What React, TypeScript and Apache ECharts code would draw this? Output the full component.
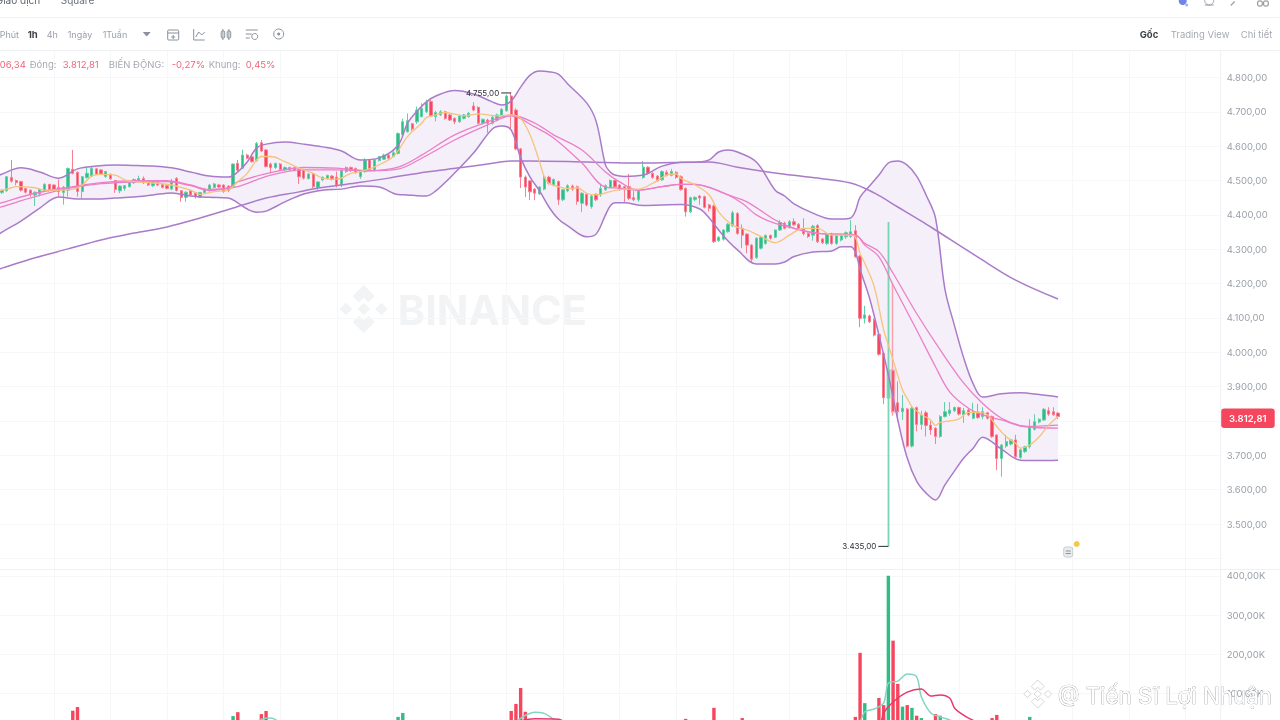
import React, { useEffect, useRef } from "react";
import * as echarts from "echarts";

const FONT = "Inter, Roboto, 'Noto Sans', sans-serif";
const UP = "#2EBD85";
const DOWN = "#F6465D";
const UP_EDGE = "#62CFA6";
const DOWN_EDGE = "#F97F90";
const SLOTS = 260;

const slotLabels = Array.from({ length: SLOTS }, (_, i) => String(i));

// open, close, low, high for each hourly candle (the first one lies off the left edge)
const candles: number[][] = [
  [4472,4466,4460,4476],
  [4465,4472,4461,4474],[4470,4511,4468,4513],[4509,4498,4494,4560],[4500,4494,4486,4503],[4497,4472,4468,4499],
  [4477,4466,4462,4479],[4472,4461,4453,4474],[4458,4466,4426,4468],[4461,4474,4454,4476],[4470,4489,4468,4492],
  [4489,4472,4468,4490],[4487,4474,4470,4489],[4480,4468,4453,4503],[4465,4480,4430,4484],[4472,4535,4453,4538],
  [4533,4521,4518,4589],[4524,4468,4453,4526],[4468,4511,4448,4513],[4509,4521,4505,4540],[4513,4535,4511,4542],
  [4534,4518,4516,4536],[4531,4519,4516,4533],[4512,4526,4508,4528],[4518,4505,4502,4520],[4500,4474,4464,4502],
  [4470,4484,4463,4486],[4477,4485,4470,4487],[4482,4494,4480,4496],[4494,4503,4490,4506],[4500,4506,4497,4514],
  [4506,4494,4490,4512],[4497,4487,4484,4499],[4485,4497,4481,4500],[4494,4487,4484,4496],[4489,4480,4477,4491],
  [4485,4477,4474,4487],[4475,4497,4472,4505],[4506,4471,4468,4510],[4470,4451,4438,4472],[4451,4466,4438,4468],
  [4470,4458,4455,4472],[4465,4453,4448,4467],[4451,4465,4449,4467],[4465,4474,4462,4476],[4472,4487,4468,4490],
  [4480,4490,4478,4493],[4487,4481,4478,4490],[4487,4468,4464,4489],[4484,4471,4466,4486],[4482,4548,4478,4550],
  [4550,4530,4525,4560],[4536,4574,4534,4590],[4574,4565,4562,4578],[4569,4555,4552,4572],[4558,4608,4555,4612],
  [4610,4586,4583,4618],[4589,4541,4538,4592],[4548,4538,4521,4552],[4538,4550,4534,4552],[4548,4532,4528,4551],
  [4531,4538,4528,4541],[4531,4538,4529,4541],[4537,4531,4527,4540],[4532,4511,4490,4535],[4531,4507,4503,4534],
  [4506,4519,4503,4521],[4519,4482,4478,4521],[4480,4496,4472,4498],[4502,4510,4498,4512],[4506,4515,4503,4517],
  [4513,4503,4500,4516],[4510,4487,4480,4526],[4487,4529,4481,4535],[4526,4538,4522,4541],[4538,4529,4525,4541],
  [4535,4523,4520,4538],[4511,4526,4505,4530],[4526,4560,4523,4565],[4560,4531,4528,4563],[4531,4560,4526,4563],
  [4558,4570,4555,4572],[4562,4574,4560,4578],[4574,4565,4560,4577],[4570,4581,4568,4590],[4579,4637,4576,4640],
  [4633,4671,4628,4680],[4642,4674,4640,4695],[4665,4650,4645,4668],[4671,4705,4665,4715],[4686,4710,4684,4725],
  [4700,4727,4697,4735],[4730,4688,4685,4735],[4686,4698,4672,4703],[4691,4700,4688,4705],[4700,4681,4677,4703],
  [4691,4676,4673,4694],[4681,4671,4664,4684],[4671,4688,4668,4692],[4681,4691,4678,4694],[4686,4696,4683,4700],
  [4717,4705,4702,4728],[4713,4667,4664,4716],[4667,4678,4663,4681],[4676,4667,4639,4680],[4667,4684,4663,4688],
  [4676,4691,4672,4695],[4691,4707,4688,4711],[4703,4746,4700,4750],[4746,4691,4650,4755],[4705,4592,4588,4710],
  [4592,4510,4478,4595],[4510,4481,4452,4515],[4499,4467,4443,4502],[4475,4463,4443,4478],[4461,4481,4458,4484],
  [4475,4510,4472,4515],[4510,4492,4488,4514],[4487,4503,4483,4506],[4497,4444,4429,4500],[4444,4473,4440,4476],
  [4470,4485,4466,4489],[4484,4475,4470,4488],[4482,4439,4430,4485],[4434,4463,4408,4466],[4460,4429,4425,4463],
  [4424,4455,4418,4458],[4460,4444,4440,4463],[4458,4477,4453,4487],[4473,4485,4470,4489],[4480,4500,4477,4503],
  [4500,4482,4479,4503],[4487,4475,4470,4490],[4482,4473,4438,4485],[4482,4448,4443,4519],[4450,4444,4440,4470],
  [4444,4470,4438,4473],[4509,4539,4505,4557],[4539,4521,4517,4542],[4521,4509,4505,4524],[4513,4500,4496,4516],
  [4502,4526,4499,4530],[4524,4515,4512,4530],[4515,4526,4512,4534],[4524,4509,4505,4527],[4511,4474,4470,4515],
  [4477,4409,4395,4480],[4409,4450,4405,4453],[4445,4451,4440,4454],[4455,4449,4430,4458],[4453,4422,4419,4456],
  [4429,4419,4410,4432],[4426,4322,4318,4430],[4325,4335,4322,4338],[4329,4356,4325,4358],[4351,4373,4348,4376],
  [4368,4406,4365,4412],[4404,4346,4342,4408],[4361,4341,4303,4372],[4344,4312,4288,4347],[4312,4271,4260,4315],
  [4276,4332,4272,4335],[4303,4335,4299,4338],[4317,4340,4313,4343],[4340,4332,4328,4343],[4335,4356,4332,4358],
  [4356,4378,4353,4385],[4376,4361,4358,4380],[4364,4380,4360,4385],[4380,4371,4368,4390],[4373,4361,4358,4376],
  [4359,4345,4340,4390],[4346,4337,4333,4349],[4341,4367,4325,4371],[4369,4322,4318,4373],[4330,4319,4315,4333],
  [4317,4344,4312,4348],[4344,4317,4313,4348],[4317,4340,4313,4344],[4327,4342,4323,4345],[4336,4348,4330,4352],
  [4337,4351,4333,4385],[4354,4278,4275,4370],[4280,4099,4073,4283],[4099,4109,4084,4135],[4106,4089,4085,4110],
  [4094,4050,4046,4098],[4052,3994,3990,4056],[3997,3868,3849,4000],[3868,3948,3435,4379],[3948,3827,3815,4201],
  [3853,3827,3800,3915],[3827,3837,3803,3876],[3835,3727,3723,3838],[3727,3837,3723,3841],[3839,3790,3770,3842],
  [3790,3817,3775,3830],[3824,3787,3755,3830],[3788,3774,3760,3800],[3779,3755,3733,3782],[3755,3813,3751,3817],
  [3813,3827,3810,3855],[3822,3832,3815,3855],[3830,3839,3826,3842],[3839,3820,3816,3842],[3818,3830,3795,3838],
  [3832,3818,3814,3836],[3808,3827,3805,3853],[3826,3810,3806,3850],[3813,3827,3805,3840],[3824,3808,3804,3827],
  [3813,3755,3751,3816],[3759,3691,3657,3762],[3691,3730,3638,3733],[3727,3740,3722,3760],[3733,3745,3729,3748],
  [3745,3696,3692,3760],[3694,3716,3690,3720],[3711,3725,3707,3728],[3725,3782,3720,3805],[3776,3798,3772,3820],
  [3797,3805,3793,3808],[3803,3834,3800,3838],[3830,3820,3815,3840],[3827,3818,3815,3840],[3823,3812.81,3806,3826],
];

// candle index (counted with the off-screen candle as 0) of the tall spike and the one after it
const spikeIndex = 189;
const spikeNextIndex = 190;

const bbIndex = [0,1,5,9,13,17,21,25,29,33,37,41,45,49,51,53,55,57,61,65,69,73,77,81,85,87,89,91,93,97,101,105,107,109,111,113,115,117,119,121,125,127,129,130,131,133,137,141,145,149,151,153,155,157,161,165,167,169,173,177,179,181,182,183,185,187,189,191,193,195,197,199,201,203,205,207,209,213,217,221,225];
const bbUpper = [4512,4519,4537,4525,4507,4534,4542,4545,4544,4542,4537,4525,4513,4510,4525,4554,4595,4606,4612,4606,4598,4586,4560,4566,4603,4667,4702,4729,4746,4762,4752,4729,4720,4732,4772,4807,4819,4817,4810,4781,4726,4673,4545,4525,4516,4512,4516,4542,4553,4554,4560,4583,4589,4583,4554,4472,4455,4432,4405,4388,4388,4391,4411,4452,4484,4516,4551,4557,4545,4513,4458,4391,4184,4079,3983,3908,3870,3879,3882,3877,3870];
const bbLower = [4340,4350,4382,4420,4452,4446,4446,4449,4452,4458,4464,4455,4451,4449,4435,4417,4408,4411,4438,4461,4472,4475,4484,4481,4459,4458,4456,4455,4470,4522,4580,4650,4659,4647,4566,4510,4470,4423,4388,4368,4336,4344,4400,4426,4435,4435,4427,4429,4430,4417,4391,4356,4324,4298,4257,4257,4263,4279,4292,4295,4307,4307,4292,4242,4158,4050,3934,3803,3692,3625,3590,3570,3614,3654,3692,3721,3753,3718,3686,3685,3686];

const maLong = [[0,4240],[1,4245],[8,4275],[15,4301],[22,4327],[29,4347],[36,4365],[43,4391],[50,4420],[57,4449],[64,4467],[68,4478],[76,4493],[83,4507],[91,4525],[98,4537],[104,4548],[109,4557],[113,4557],[125,4554],[136,4551],[151,4554],[157,4539],[165,4522],[172,4510],[181,4493],[186,4464],[191,4423],[196,4382],[199,4356],[208,4277],[216,4210],[225,4155]];
const maFast = [[0,4470],[1,4472],[3,4479],[4,4482],[8,4479],[10,4472],[13,4472],[16,4474],[18,4487],[20,4513],[22,4518],[25,4516],[27,4502],[29,4497],[34,4492],[37,4487],[41,4472],[43,4460],[46,4468],[49,4472],[51,4497],[53,4521],[55,4560],[56,4570],[58,4570],[61,4555],[64,4536],[67,4521],[69,4507],[72,4504],[75,4521],[77,4526],[80,4540],[84,4570],[87,4628],[90,4667],[91,4683],[93,4691],[95,4698],[99,4688],[102,4694],[106,4688],[109,4691],[111,4681],[113,4633],[115,4555],[116,4511],[117,4492],[119,4482],[121,4477],[123,4479],[125,4463],[127,4458],[130,4468],[133,4475],[136,4475],[139,4492],[142,4516],[144,4519],[145,4506],[148,4487],[151,4458],[153,4409],[156,4370],[159,4356],[162,4337],[165,4319],[168,4341],[171,4361],[174,4361],[177,4341],[181,4341],[182,4336],[183,4288],[184,4259],[186,4191],[188,4065],[189,4021],[190,3978],[192,3890],[193,3866],[194,3842],[196,3819],[198,3803],[199,3787],[200,3796],[202,3800],[204,3806],[206,3825],[208,3825],[210,3818],[212,3784],[214,3754],[216,3735],[217,3721],[219,3730],[221,3754],[223,3788],[225,3813]];
const maMidA = [[0,4432],[1,4436],[8,4463],[15,4480],[22,4494],[29,4500],[36,4500],[41,4487],[45,4474],[49,4479],[51,4496],[58,4523],[65,4538],[72,4536],[79,4529],[85,4539],[90,4574],[97,4633],[104,4671],[109,4690],[114,4667],[118,4633],[124,4589],[129,4525],[132,4496],[136,4472],[141,4482],[145,4489],[148,4489],[151,4480],[155,4458],[159,4438],[165,4385],[169,4361],[174,4346],[182,4341],[184,4317],[187,4293],[190,4230],[195,4113],[200,4007],[205,3910],[209,3851],[213,3808],[218,3784],[225,3779]];
const maMidB = [[0,4420],[1,4424],[8,4453],[15,4477],[22,4491],[29,4496],[36,4497],[41,4485],[45,4471],[49,4477],[51,4482],[58,4516],[65,4531],[72,4531],[79,4528],[85,4533],[90,4565],[97,4618],[104,4662],[109,4688],[114,4656],[118,4624],[124,4551],[129,4481],[132,4478],[136,4472],[141,4482],[145,4489],[148,4489],[151,4480],[155,4458],[158,4434],[161,4400],[165,4375],[169,4361],[174,4346],[182,4341],[184,4312],[187,4278],[190,4196],[195,4065],[199,3958],[202,3885],[206,3837],[209,3818],[213,3803],[218,3784],[225,3788]];

const volumeBars = [[16,56700],[17,66000],[50,43000],[51,53000],[56,48000],[57,56000],[85,41000],[86,51000],[109,56000],[110,74000],[111,114500],[112,54000],[146,36000],[152,64000],[158,38000],[182,41000],[183,204000],[184,76000],[185,20000],[186,20000],[187,89000],[188,71000],[189,400000],[190,235000],[191,125000],[192,67000],[193,71000],[194,64000],[195,44000],[196,38000],[199,48000],[200,44000],[211,38000],[212,46000],[219,41000]];
const volMaTeal = [[0,10000],[51,12000],[54,22000],[56,35000],[58,38000],[61,20000],[66,10000],[105,10000],[110,30000],[112,45000],[114,53000],[116,50000],[118,35000],[121,12000],[181,10000],[183,30000],[184,54000],[186,61000],[188,76000],[189,127000],[191,132000],[193,150000],[195,143000],[196,92000],[198,51000],[200,41000],[202,33000],[206,15000],[225,10000]];
const volMaRed = [[0,10000],[106,10000],[111,30000],[114,36000],[119,35000],[123,12000],[181,10000],[187,18000],[188,51000],[190,79000],[193,104000],[196,112000],[198,94000],[200,97000],[202,89000],[203,64000],[204,53000],[206,38000],[208,28000],[225,10000]];

const extremeIndex = [109, 189];
const extremeValue = [4755, 3435];
const extremeLabel = ["4.755,00", "3.435,00"];
const extremeSide = [-1, -1];

const lastPriceLabel = "3.812,81";

const fmtPrice = (v: number) =>
  v.toLocaleString("de-DE", { minimumFractionDigits: 2, maximumFractionDigits: 2 });
const fmtVol = (v: number) =>
  (v / 1000).toLocaleString("de-DE", { minimumFractionDigits: 2, maximumFractionDigits: 2 }) + "K";

const pairs = (idx: number[], vals: number[]) => idx.map((x, i) => [x, vals[i]]);

function text(x: number, y: number, s: string, fill: string, size = 9.5, weight = 400, align = "left", z = 5) {
  return {
    type: "text", x, y, z,
    style: { text: s, fill, font: `${weight} ${size}px ${FONT}`, align, verticalAlign: "middle" },
  };
}
function hline(x1: number, x2: number, y: number, stroke: string, lw = 1, z = 1) {
  return { type: "line", z, shape: { x1, y1: y, x2, y2: y }, style: { stroke, lineWidth: lw } };
}
function vline(x: number, y1: number, y2: number, stroke: string, lw = 1, z = 1) {
  return { type: "line", z, shape: { x1: x, y1, x2: x, y2 }, style: { stroke, lineWidth: lw } };
}

// Binance mark: four chevrons and a centre square, as an SVG path in a 100x100 box
const LOGO_D =
  "M50 0 L73 23 L60 36 L50 26 L40 36 L27 23 Z " +
  "M50 100 L27 77 L40 64 L50 74 L60 64 L73 77 Z " +
  "M0 50 L13 37 L26 50 L13 63 Z " +
  "M100 50 L87 37 L74 50 L87 63 Z " +
  "M50 37 L63 50 L50 63 L37 50 Z";
echarts.graphic.registerShape("binanceMark", echarts.graphic.extendPath(LOGO_D, {}) as any);

const ICON = "#8a919c";

function toolbarGraphics(): any[] {
  return [
    hline(-6, 1280, 17.5, "#EFF0F2"),
    hline(-6, 1280, 50.5, "#EFF0F2"),
    hline(-6, 1280, 569.5, "#EFF0F2"),
    vline(1221, 50, 720, "#EFF0F2"),

    text(-4, 0, "Giao dịch", "#5f6670", 10),
    text(61, 0, "Square", "#6b727c", 10),

    text(0, 34.5, "Phút", "#9aa0a9", 9),
    text(28, 34.5, "1h", "#3c4148", 9.5, 700),
    text(47, 34.5, "4h", "#9aa0a9", 9),
    text(68, 34.5, "1ngày", "#9aa0a9", 9),
    text(103, 34.5, "1Tuần", "#9aa0a9", 9),
    { type: "polygon", z: 5, shape: { points: [[143, 32], [151, 32], [147, 36.5]] }, style: { fill: "#8a919c" } },

    // calendar
    { type: "rect", z: 5, shape: { x: 168, y: 30, width: 11, height: 10, r: 1 }, style: { fill: "none", stroke: ICON, lineWidth: 1 } },
    hline(168, 179, 33, ICON, 1, 5),
    vline(173.5, 35, 39, ICON, 1, 5),
    hline(171.5, 175.5, 37, ICON, 1, 5),
    // line chart
    { type: "polyline", z: 5, shape: { points: [[194, 29], [194, 40], [205, 40]] }, style: { fill: "none", stroke: ICON, lineWidth: 1 } },
    { type: "polyline", z: 5, shape: { points: [[196, 37], [199, 32], [202, 35], [205, 32]] }, style: { fill: "none", stroke: ICON, lineWidth: 1 } },
    // candles
    { type: "rect", z: 5, shape: { x: 221.5, y: 31, width: 3.5, height: 7, r: 1 }, style: { fill: "none", stroke: ICON, lineWidth: 1 } },
    { type: "rect", z: 5, shape: { x: 227.5, y: 31, width: 3.5, height: 7, r: 1 }, style: { fill: "none", stroke: ICON, lineWidth: 1 } },
    vline(223.2, 29, 40, ICON, 1, 5),
    vline(229.2, 29, 40, ICON, 1, 5),
    // template lines
    hline(246, 258, 30, ICON, 1, 5),
    hline(246, 252, 34, ICON, 1, 5),
    hline(246, 250, 38, ICON, 1, 5),
    { type: "circle", z: 5, shape: { cx: 255, cy: 36.5, r: 3 }, style: { fill: "#fff", stroke: ICON, lineWidth: 1 } },
    // target
    { type: "circle", z: 5, shape: { cx: 279, cy: 34, r: 5 }, style: { fill: "none", stroke: ICON, lineWidth: 1 } },
    { type: "circle", z: 5, shape: { cx: 279, cy: 34, r: 1.5 }, style: { fill: ICON } },

    text(1140, 34.5, "Gốc", "#3c4148", 9.5, 700),
    text(1171, 34.5, "Trading View", "#a5aab2", 9.5),
    text(1241, 34.5, "Chi tiết", "#a5aab2", 9.5),

    // top-right header icons
    { type: "circle", z: 5, shape: { cx: 1183, cy: 1, r: 4 }, style: { fill: "#6f86e8" } },
    { type: "circle", z: 5, shape: { cx: 1187, cy: 5, r: 1.5 }, style: { fill: "#9fb2f2" } },
    { type: "circle", z: 5, shape: { cx: 1209.5, cy: 0.5, r: 4.5 }, style: { fill: "none", stroke: "#9aa0a9", lineWidth: 1 } },
    hline(1205, 1214, 5, "#9aa0a9", 1, 5),
    { type: "line", z: 5, shape: { x1: 1231, y1: 5.5, x2: 1235, y2: 1.5 }, style: { stroke: "#9aa0a9", lineWidth: 1.2 } },
    { type: "rect", z: 5, shape: { x: 1258, y: 1, width: 4.5, height: 5, r: 1 }, style: { fill: "none", stroke: "#7d838c", lineWidth: 1 } },
    { type: "rect", z: 5, shape: { x: 1264, y: 1, width: 4.5, height: 5, r: 1 }, style: { fill: "none", stroke: "#7d838c", lineWidth: 1 } },

    text(0, 64.5, "06,34", "#F0657A", 9.5),
    text(30, 64.5, "Đóng:", "#a5aab2", 9.5),
    text(63, 64.5, "3.812,81", "#F0657A", 9.5),
    text(109, 64.5, "BIẾN ĐỘNG:", "#a5aab2", 9.5),
    text(172, 64.5, "-0,27%", "#F0657A", 9.5),
    text(209, 64.5, "Khung:", "#a5aab2", 9.5),
    text(246, 64.5, "0,45%", "#F0657A", 9.5),

    // BINANCE watermark
    { type: "binanceMark", z: 0, x: 340, y: 285, scaleX: 0.48, scaleY: 0.48, style: { fill: "#F2F3F4" } },
    { type: "text", z: 0, x: 398, y: 310, style: { text: "BINANCE", fill: "#F2F3F4", font: `700 41.5px ${FONT}`, verticalAlign: "middle", align: "left" } },

    // last price tag
    { type: "rect", z: 6, shape: { x: 1221.5, y: 408.5, width: 53.5, height: 19.5, r: 3 }, style: { fill: "#F6465D" } },
    text(1248, 418.5, lastPriceLabel, "#ffffff", 9.5, 600, "center", 7),

    // small note icon and dot
    { type: "rect", z: 6, shape: { x: 1064, y: 547, width: 9, height: 10, r: 2 }, style: { fill: "#E9ECEF", stroke: "#C9CDD2", lineWidth: 1 } },
    hline(1066, 1071, 551, "#8a919c", 1, 7),
    hline(1066, 1071, 553.5, "#8a919c", 1, 7),
    { type: "circle", z: 7, shape: { cx: 1077, cy: 544, r: 3 }, style: { fill: "#F5C84C" } },

    // author watermark
    { type: "binanceMark", z: 20, x: 1024, y: 680, scaleX: 0.28, scaleY: 0.28, style: { fill: "#ffffff", stroke: "#c4c6c9", lineWidth: 2.5 } },
    { type: "text", z: 20, x: 1058, y: 695, style: { text: "@ Tiến Sĩ Lợi Nhuận", fill: "#ffffff", stroke: "#9a9da1", lineWidth: 0.7, font: `400 22.4px ${FONT}`, align: "left", verticalAlign: "middle" } },
  ];
}

const xCommon = (gridIndex: number) => ({
  type: "category",
  gridIndex,
  data: slotLabels,
  boundaryGap: true,
  axisLine: { show: false },
  axisTick: { show: false },
  axisLabel: { show: false },
  splitLine: {
    show: true,
    alignWithLabel: true,
    interval: (i: number) => i % 12 === 0,
    lineStyle: { color: "#F6F7F8", width: 1 },
  },
});

const bandColor = "#F4EFF8";
const bbColor = "#AA7BC9";
const pinkColor = "#EC7FC8";
const orangeColor = "#F5C47C";

const lineSeries = (name: string, data: number[][], color: string, width: number, xAxisIndex = 0, yAxisIndex = 0, smooth: number = 0.35) => ({
  name, type: "line", data, xAxisIndex, yAxisIndex, smooth, symbol: "none", silent: true, z: 4,
  lineStyle: { color, width },
});

const candleData = candles.map((c, i) => {
  if (i === spikeIndex) return { value: c, itemStyle: { borderColor: "#78D6B2", borderWidth: 1.8 } };
  if (i === spikeNextIndex) return { value: c, itemStyle: { borderColor: "#F9A0AD", borderWidth: 1.4 } };
  return c;
});

// One slot sits left of the page so the lines run on to the left edge.
const LEAD = 1221 / (SLOTS - 1);

export default function App() {
  const ref = useRef<HTMLDivElement>(null);
  useEffect(() => {
    if (!ref.current) return;
    const chart = echarts.init(ref.current, undefined, { renderer: "svg" });
    const option: any = {
      animation: false,
      backgroundColor: "#ffffff",
      grid: [
        { left: 0, width: 1221 + LEAD, top: 50, height: 508.4 },
        { left: 0, width: 1221 + LEAD, top: 558.4, height: 174.6 },
      ],
      xAxis: [xCommon(0), xCommon(1)],
      yAxis: [
        {
          type: "value", gridIndex: 0, position: "right", min: 3400, max: 4880, interval: 100, scale: true,
          axisLine: { show: false }, axisTick: { show: false },
          axisLabel: {
            color: "#9aa0a9", fontSize: 9.5, fontFamily: FONT, margin: 6,
            showMinLabel: false, showMaxLabel: false, formatter: (v: number) => fmtPrice(v),
          },
          splitLine: { lineStyle: { color: "#F6F7F8", width: 1 } },
        },
        {
          type: "value", gridIndex: 1, position: "right", min: 0, max: 444300, interval: 100000,
          axisLine: { show: false }, axisTick: { show: false },
          axisLabel: {
            color: "#9aa0a9", fontSize: 9.5, fontFamily: FONT, margin: 6,
            showMinLabel: false, showMaxLabel: false, formatter: (v: number) => fmtVol(v),
          },
          splitLine: { lineStyle: { color: "#F6F7F8", width: 1 } },
        },
      ],
      graphic: { elements: [{ type: "group", x: LEAD, y: 0, children: toolbarGraphics() }] },
      series: [
        {
          name: "bandBase", type: "line", stack: "bb", smooth: 0.35, symbol: "none", silent: true, z: 1,
          data: pairs(bbIndex, bbLower), lineStyle: { width: 0, opacity: 0 },
        },
        {
          name: "bandFill", type: "line", stack: "bb", smooth: 0.35, symbol: "none", silent: true, z: 1,
          data: pairs(bbIndex, bbUpper.map((u, i) => u - bbLower[i])),
          lineStyle: { width: 0, opacity: 0 },
          areaStyle: { color: bandColor, opacity: 1 },
        },
        {
          name: "candles", type: "candlestick", data: candleData, barWidth: 2.8, silent: true, z: 3,
          itemStyle: { color: UP, color0: DOWN, borderColor: UP_EDGE, borderColor0: DOWN_EDGE, borderWidth: 1 },
        },
        lineSeries("bbUpper", pairs(bbIndex, bbUpper), bbColor, 1.5),
        lineSeries("bbLower", pairs(bbIndex, bbLower), bbColor, 1.5),
        lineSeries("maLong", maLong, bbColor, 1.5),
        lineSeries("maMidA", maMidA, pinkColor, 1.3),
        lineSeries("maMidB", maMidB, pinkColor, 1.3),
        lineSeries("maFast", maFast, orangeColor, 1.3),
        {
          name: "extremes", type: "custom", xAxisIndex: 0, yAxisIndex: 0, silent: true, z: 5,
          data: extremeIndex.map((x, i) => [x, extremeValue[i]]),
          encode: { x: 0, y: 1 },
          renderItem: (params: any, api: any) => {
            const i = params.dataIndex;
            const p = api.coord([extremeIndex[i], extremeValue[i]]);
            const s = extremeSide[i];
            return {
              type: "group",
              children: [
                { type: "line", shape: { x1: p[0], y1: p[1], x2: p[0] + s * 10, y2: p[1] }, style: { stroke: "#2b2f36", lineWidth: 1 } },
                { type: "text", style: { x: p[0] + s * 12, y: p[1], text: extremeLabel[i], fill: "#2b2f36", font: `400 8px ${FONT}`, align: "right", verticalAlign: "middle" } },
              ],
            };
          },
        },
        {
          name: "volume", type: "bar", xAxisIndex: 1, yAxisIndex: 1, barWidth: 3.4, silent: true,
          data: volumeBars.map(([x, v]) => ({
            value: [x, v],
            itemStyle: { color: candles[x][1] >= candles[x][0] ? UP : DOWN },
          })),
        },
        lineSeries("volMaTeal", volMaTeal, "#82D5C3", 1.5, 1, 1, 0.3),
        lineSeries("volMaRed", volMaRed, "#E8386E", 1.5, 1, 1, 0.3),
      ],
    };
    chart.setOption(option);
    return () => chart.dispose();
  }, []);
  return (
    <div style={{ position: "fixed", left: 0, top: 0, width: 1280, height: 720, overflow: "hidden", background: "#fff" }}>
      <div
        ref={ref}
        style={{ position: "absolute", left: -LEAD, top: 0, width: 1280 + LEAD, height: 740, filter: "blur(0.55px)" }}
      />
    </div>
  );
}
